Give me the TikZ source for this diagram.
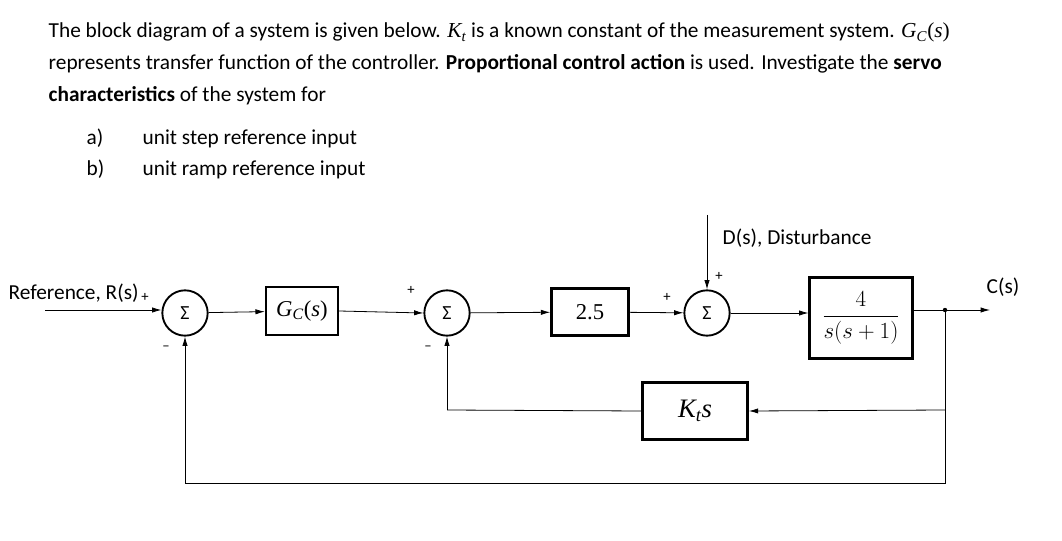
\documentclass[tikz,border=0pt]{standalone}
\usepackage{fontspec}
\setmainfont{Carlito}
\newfontfamily\tms{Liberation Serif}
\usetikzlibrary{arrows.meta}
\begin{document}
\begin{tikzpicture}[x=0.75pt,y=-0.75pt,
  every node/.style={font=\fontsize{16}{19}\selectfont},
  sum/.style={circle,draw,line width=1.4pt,minimum size=34pt,inner sep=0pt,font=\fontsize{15}{18}\selectfont},
  blk/.style={draw,line width=1.8pt,inner sep=0pt},
  sig/.style={font=\fontsize{11}{12}\selectfont},
  ar/.style={-{Latex[length=7pt,width=4pt]},line width=0.6pt},
  ln/.style={line width=0.6pt}]
\useasboundingbox (0,0) rectangle (1062,541);
\node[anchor=base west] (t1) at (44,38) {The block diagram of a system is given below. {\tms\itshape K\textsubscript{t}} is a known constant of the measurement system. {\tms\itshape G\textsubscript{C}\upshape(\itshape s\upshape)}};
\node[anchor=base west] (t2) at (44,70) {represents transfer function of the controller. \textbf{Proportional control action} is used. Investigate the \textbf{servo}};
\node[anchor=base west] (t3) at (44,102) {\textbf{characteristics} of the system for};
\node[anchor=base west] (a) at (82,145) {a)};
\node[anchor=base west] (at) at (138,145) {unit step reference input};
\node[anchor=base west] (b) at (82,176) {b)};
\node[anchor=base west] (bt) at (138,176) {unit ramp reference input};

\node[sum] (s1) at (185,313) {Σ};
\node[sum] (s2) at (447,313) {Σ};
\node[sum] (s3) at (707,313) {Σ};
\node[blk,minimum width=54pt,minimum height=36pt] (gc) at (302,311) {\tms\fontsize{17}{20}\selectfont\itshape G\textsubscript{C}\upshape(\itshape s\upshape)};
\node[blk,minimum width=58pt,minimum height=35pt] (k) at (590,312) {\tms\fontsize{17}{20}\selectfont 2.5};
\node[blk,minimum width=77pt,minimum height=61pt] (g) at (861,318) {\tms\fontsize{17}{20}\selectfont$\displaystyle\frac{4}{s(s+1)}$};
\node[blk,minimum width=79pt,minimum height=43pt] (kt) at (695,411) {\tms\fontsize{20}{22}\selectfont\itshape K\textsubscript{t}s};

\coordinate (in) at (45,310);
\coordinate (br) at (945,310);
\coordinate (out) at (990,310);
\coordinate (d) at (707,215);
\coordinate (c1) at (945,483);
\coordinate (c2) at (185,483);
\coordinate (c3) at (945,410);
\coordinate (c4) at (447,410);

\draw[ar] (in) -- (s1.west |- in);
\draw[ar] (s1) -- (gc);
\draw[ar] (gc.east) -- (s2.west);
\draw[ar] (s2) -- (k);
\draw[ar] (k) -- (s3);
\draw[ar] (s3) -- (g.west |- s3);
\draw[ln] (g.east |- br) -- (br);
\draw[ar] (br) -- (out);
\fill (br) circle (2.2);
\draw[ar] (d) -- (s3.north);
\draw[ln] (br) -- (c1) -- (c2);
\draw[ar] (c2) -- (s1.south);
\draw[ar] (c3) -- (kt.east);
\draw[ln] (kt.west) -- (c4);
\draw[ar] (c4) -- (s2.south);

\node[anchor=base west] (ref) at (4,300) {Reference, R(s)};
\node[anchor=base west] (dl) at (718,245) {D(s), Disturbance};
\node[anchor=base west] (cs) at (982,293) {C(s)};
\node[sig] (p1) at (145,297) {+};
\node[sig] (m1) at (166,348) {--};
\node[sig] (p2) at (411,290) {+};
\node[sig] (m2) at (428,348) {--};
\node[sig] (p3) at (667,297) {+};
\node[sig] (p4) at (719,276) {+};
\end{tikzpicture}
\end{document}
